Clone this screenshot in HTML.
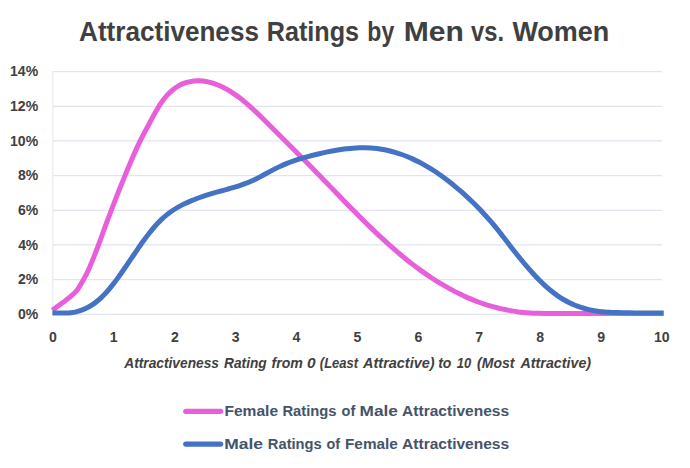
<!DOCTYPE html>
<html><head><meta charset="utf-8"><title>Attractiveness Ratings by Men vs. Women</title>
<style>
html,body{margin:0;padding:0;background:#fff;}
body{width:690px;height:468px;overflow:hidden;font-family:"Liberation Sans",sans-serif;}
svg{display:block;}
text{font-family:"Liberation Sans",sans-serif;font-weight:bold;}
</style></head><body>
<svg width="690" height="468" viewBox="0 0 690 468">
<rect width="690" height="468" fill="#ffffff"/>
<g stroke="#E1E5EE" stroke-width="1.3" fill="none">
<line x1="53" y1="314.30" x2="662" y2="314.30"/>
<line x1="53" y1="279.63" x2="662" y2="279.63"/>
<line x1="53" y1="244.96" x2="662" y2="244.96"/>
<line x1="53" y1="210.29" x2="662" y2="210.29"/>
<line x1="53" y1="175.62" x2="662" y2="175.62"/>
<line x1="53" y1="140.95" x2="662" y2="140.95"/>
<line x1="53" y1="106.28" x2="662" y2="106.28"/>
<line x1="53" y1="71.61" x2="662" y2="71.61"/>
<line x1="52.8" y1="71" x2="52.8" y2="314.9" stroke="#E8EBF1" stroke-width="1.2"/>
</g>
<g font-size="27.5" fill="#404040">
<text transform="translate(79.09,40.90) scale(0.9492,1)">Attractiveness</text>
<text transform="translate(266.78,40.90) scale(0.9155,1)">Ratings</text>
<text transform="translate(367.32,40.90) scale(0.8400,1)">by</text>
<text transform="translate(403.65,40.90) scale(1.0939,1)">Men</text>
<text transform="translate(471.09,40.90) scale(0.8607,1)">vs.</text>
<text transform="translate(512.40,40.90) scale(0.9802,1)">Women</text>
</g>
<g font-size="14.3" fill="#404040" font-style="italic">
<text transform="translate(124.24,368.40) scale(0.9628,1)">Attractiveness</text>
<text transform="translate(224.06,368.40) scale(0.9591,1)">Rating</text>
<text transform="translate(271.51,368.40) scale(0.9894,1)">from</text>
<text transform="translate(307.12,368.40) scale(1.0807,1)">0</text>
<text transform="translate(319.85,368.40) scale(0.9092,1)">(Least</text>
<text transform="translate(363.05,368.40) scale(1.0128,1)">Attractive)</text>
<text transform="translate(438.18,368.40) scale(0.9859,1)">to</text>
<text transform="translate(456.77,368.40) scale(0.9032,1)">10</text>
<text transform="translate(477.11,368.40) scale(0.9810,1)">(Most</text>
<text transform="translate(520.55,368.40) scale(0.9986,1)">Attractive)</text>
</g>
<g font-size="15.3" fill="#44546A">
<text transform="translate(224.38,416.40) scale(1.0185,1)">Female</text>
<text transform="translate(282.43,416.40) scale(0.9651,1)">Ratings</text>
<text transform="translate(341.51,416.40) scale(0.9514,1)">of</text>
<text transform="translate(359.57,416.40) scale(1.1292,1)">Male</text>
<text transform="translate(402.12,416.40) scale(1.0156,1)">Attractiveness</text>
</g>
<g font-size="15.3" fill="#44546A">
<text transform="translate(224.26,449.00) scale(1.1415,1)">Male</text>
<text transform="translate(267.84,449.00) scale(0.9615,1)">Ratings</text>
<text transform="translate(326.61,449.00) scale(0.9369,1)">of</text>
<text transform="translate(345.00,449.00) scale(1.0029,1)">Female</text>
<text transform="translate(402.12,449.00) scale(1.0156,1)">Attractiveness</text>
</g>
<g font-size="14.1" fill="#404040">
<text transform="translate(17.90,319.00) scale(0.9949,1)">0%</text>
<text transform="translate(17.90,284.33) scale(0.9949,1)">2%</text>
<text transform="translate(18.15,249.66) scale(0.9823,1)">4%</text>
<text transform="translate(17.90,214.99) scale(0.9949,1)">6%</text>
<text transform="translate(17.90,180.32) scale(0.9949,1)">8%</text>
<text transform="translate(10.03,145.65) scale(0.9963,1)">10%</text>
<text transform="translate(10.03,110.98) scale(0.9963,1)">12%</text>
<text transform="translate(10.03,76.31) scale(0.9963,1)">14%</text>
</g>
<g font-size="14.1" fill="#404040">
<text transform="translate(49.12,342.20)">0</text>
<text transform="translate(109.71,342.20)">1</text>
<text transform="translate(170.93,342.20)">2</text>
<text transform="translate(231.82,342.20)">3</text>
<text transform="translate(292.60,342.20)">4</text>
<text transform="translate(353.50,342.20)">5</text>
<text transform="translate(414.46,342.20)">6</text>
<text transform="translate(475.36,342.20)">7</text>
<text transform="translate(536.26,342.20)">8</text>
<text transform="translate(597.16,342.20)">9</text>
<text transform="translate(654.00,342.20)">10</text>
</g>
<path d="M52.40,310.30 C53.50,309.47 56.90,306.87 59.00,305.30 C61.10,303.73 63.00,302.42 65.00,300.90 C67.00,299.38 69.00,297.98 71.00,296.20 C73.00,294.42 75.00,292.83 77.00,290.20 C79.00,287.57 81.00,284.03 83.00,280.44 C85.00,276.85 87.00,273.05 89.00,268.67 C91.00,264.30 93.00,259.27 95.00,254.18 C97.00,249.09 99.00,243.53 101.00,238.11 C103.00,232.70 105.00,227.07 107.00,221.68 C109.00,216.29 111.00,210.97 113.00,205.76 C115.00,200.56 117.00,195.46 119.00,190.44 C121.00,185.42 123.00,180.50 125.00,175.64 C127.00,170.79 129.00,165.99 131.00,161.32 C133.00,156.65 135.00,151.96 137.00,147.63 C139.00,143.30 141.00,139.26 143.00,135.35 C145.00,131.43 147.00,127.86 149.00,124.14 C151.00,120.42 153.00,116.52 155.00,113.03 C157.00,109.54 159.00,106.10 161.00,103.17 C163.00,100.25 165.00,97.71 167.00,95.46 C169.00,93.22 171.00,91.35 173.00,89.71 C175.00,88.08 177.00,86.77 179.00,85.64 C181.00,84.52 183.00,83.68 185.00,82.98 C187.00,82.28 189.00,81.79 191.00,81.44 C193.00,81.08 195.00,80.89 197.00,80.84 C199.00,80.78 201.00,80.88 203.00,81.10 C205.00,81.32 207.00,81.68 209.00,82.15 C211.00,82.62 213.00,83.22 215.00,83.92 C217.00,84.61 219.00,85.43 221.00,86.34 C223.00,87.25 225.00,88.27 227.00,89.39 C229.00,90.51 231.00,91.74 233.00,93.06 C235.00,94.38 237.00,95.81 239.00,97.31 C241.00,98.82 243.00,100.44 245.00,102.11 C247.00,103.78 249.00,105.55 251.00,107.35 C253.00,109.15 255.00,111.03 257.00,112.93 C259.00,114.83 261.00,116.79 263.00,118.75 C265.00,120.72 267.00,122.72 269.00,124.71 C271.00,126.70 273.00,128.71 275.00,130.70 C277.00,132.70 279.00,134.69 281.00,136.68 C283.00,138.68 285.00,140.67 287.00,142.66 C289.00,144.66 291.00,146.65 293.00,148.65 C295.00,150.65 297.00,152.65 299.00,154.66 C301.00,156.67 303.00,158.69 305.00,160.71 C307.00,162.74 309.00,164.77 311.00,166.81 C313.00,168.86 315.00,170.91 317.00,172.97 C319.00,175.02 321.00,177.09 323.00,179.15 C325.00,181.22 327.00,183.29 329.00,185.36 C331.00,187.43 333.00,189.50 335.00,191.56 C337.00,193.63 339.00,195.69 341.00,197.75 C343.00,199.81 345.00,201.87 347.00,203.91 C349.00,205.95 351.00,207.99 353.00,210.02 C355.00,212.04 357.00,214.06 359.00,216.06 C361.00,218.05 363.00,220.04 365.00,222.01 C367.00,223.98 369.00,225.93 371.00,227.87 C373.00,229.80 375.00,231.71 377.00,233.60 C379.00,235.49 381.00,237.36 383.00,239.20 C385.00,241.05 387.00,242.87 389.00,244.65 C391.00,246.44 393.00,248.21 395.00,249.93 C397.00,251.66 399.00,253.36 401.00,255.03 C403.00,256.69 405.00,258.33 407.00,259.93 C409.00,261.52 411.00,263.09 413.00,264.62 C415.00,266.15 417.00,267.65 419.00,269.11 C421.00,270.57 423.00,272.00 425.00,273.39 C427.00,274.78 429.00,276.14 431.00,277.47 C433.00,278.79 435.00,280.08 437.00,281.33 C439.00,282.58 441.00,283.79 443.00,284.97 C445.00,286.15 447.00,287.30 449.00,288.40 C451.00,289.51 453.00,290.58 455.00,291.62 C457.00,292.65 459.00,293.65 461.00,294.61 C463.00,295.57 465.00,296.49 467.00,297.37 C469.00,298.26 471.00,299.11 473.00,299.91 C475.00,300.72 477.00,301.49 479.00,302.23 C481.00,302.96 483.00,303.65 485.00,304.31 C487.00,304.96 489.00,305.58 491.00,306.15 C493.00,306.73 495.00,307.27 497.00,307.77 C499.00,308.28 501.00,308.74 503.00,309.18 C505.00,309.61 507.00,310.01 509.00,310.38 C511.00,310.75 513.00,311.07 515.00,311.39 C517.00,311.71 519.00,312.07 521.00,312.30 C523.00,312.53 525.00,312.66 527.00,312.80 C529.00,312.94 531.00,313.06 533.00,313.15 C535.00,313.24 537.00,313.30 539.00,313.35 C541.00,313.40 543.00,313.43 545.00,313.45 C547.00,313.47 549.00,313.49 551.00,313.50 C553.00,313.51 555.00,313.50 557.00,313.50 C559.00,313.50 561.00,313.50 563.00,313.50 C565.00,313.50 567.00,313.50 569.00,313.50 C571.00,313.50 573.00,313.50 575.00,313.50 C577.00,313.50 579.00,313.50 581.00,313.50 C583.00,313.50 585.00,313.50 587.00,313.50 C589.00,313.50 591.00,313.50 593.00,313.50 C595.00,313.50 597.00,313.50 599.00,313.50 C601.00,313.50 603.00,313.50 605.00,313.50 C607.00,313.50 609.00,313.50 611.00,313.50 C613.00,313.50 615.00,313.50 617.00,313.50 C619.00,313.50 621.00,313.50 623.00,313.50 C625.00,313.50 627.00,313.50 629.00,313.50 C631.00,313.50 633.00,313.50 635.00,313.50 C637.00,313.50 639.00,313.50 641.00,313.50 C643.00,313.50 645.00,313.50 647.00,313.50 C649.00,313.50 651.00,313.50 653.00,313.50 C655.00,313.50 657.23,313.50 659.00,313.50 C660.77,313.50 662.83,313.50 663.60,313.50" fill="none" stroke="#E95EDB" stroke-width="5.0" stroke-linejoin="round"/>
<path d="M52.40,313.00 C53.50,313.00 56.90,313.00 59.00,313.00 C61.10,313.00 63.00,313.04 65.00,313.00 C67.00,312.96 69.00,312.99 71.00,312.75 C73.00,312.51 75.00,312.09 77.00,311.56 C79.00,311.04 81.00,310.41 83.00,309.60 C85.00,308.80 87.00,307.86 89.00,306.74 C91.00,305.62 93.00,304.35 95.00,302.87 C97.00,301.39 99.00,299.74 101.00,297.87 C103.00,296.01 105.00,293.91 107.00,291.67 C109.00,289.42 111.00,286.95 113.00,284.40 C115.00,281.85 117.00,279.12 119.00,276.35 C121.00,273.58 123.00,270.68 125.00,267.78 C127.00,264.88 129.00,261.89 131.00,258.95 C133.00,256.01 135.00,253.03 137.00,250.13 C139.00,247.24 141.00,244.35 143.00,241.59 C145.00,238.82 147.00,236.10 149.00,233.54 C151.00,230.98 153.00,228.50 155.00,226.23 C157.00,223.96 159.00,221.83 161.00,219.89 C163.00,217.96 165.00,216.23 167.00,214.62 C169.00,213.01 171.00,211.59 173.00,210.26 C175.00,208.93 177.00,207.75 179.00,206.64 C181.00,205.52 183.00,204.53 185.00,203.58 C187.00,202.62 189.00,201.75 191.00,200.91 C193.00,200.07 195.00,199.28 197.00,198.53 C199.00,197.77 201.00,197.07 203.00,196.39 C205.00,195.71 207.00,195.07 209.00,194.45 C211.00,193.83 213.00,193.25 215.00,192.67 C217.00,192.09 219.00,191.54 221.00,190.98 C223.00,190.43 225.00,189.90 227.00,189.34 C229.00,188.78 231.00,188.23 233.00,187.64 C235.00,187.04 237.00,186.44 239.00,185.79 C241.00,185.13 243.00,184.45 245.00,183.70 C247.00,182.95 249.00,182.16 251.00,181.29 C253.00,180.41 255.00,179.46 257.00,178.46 C259.00,177.47 261.00,176.38 263.00,175.31 C265.00,174.25 267.00,173.12 269.00,172.05 C271.00,170.98 273.00,169.89 275.00,168.88 C277.00,167.86 279.00,166.89 281.00,165.98 C283.00,165.08 285.00,164.23 287.00,163.43 C289.00,162.63 291.00,161.88 293.00,161.17 C295.00,160.46 297.00,159.80 299.00,159.17 C301.00,158.54 303.00,157.95 305.00,157.38 C307.00,156.81 309.00,156.28 311.00,155.76 C313.00,155.25 315.00,154.76 317.00,154.28 C319.00,153.80 321.00,153.34 323.00,152.89 C325.00,152.45 327.00,152.02 329.00,151.62 C331.00,151.22 333.00,150.84 335.00,150.49 C337.00,150.13 339.00,149.81 341.00,149.51 C343.00,149.22 345.00,148.96 347.00,148.73 C349.00,148.51 351.00,148.31 353.00,148.17 C355.00,148.02 357.00,147.90 359.00,147.84 C361.00,147.78 363.00,147.75 365.00,147.78 C367.00,147.81 369.00,147.89 371.00,148.02 C373.00,148.15 375.00,148.33 377.00,148.58 C379.00,148.82 381.00,149.12 383.00,149.48 C385.00,149.83 387.00,150.25 389.00,150.72 C391.00,151.20 393.00,151.73 395.00,152.31 C397.00,152.90 399.00,153.55 401.00,154.25 C403.00,154.95 405.00,155.70 407.00,156.52 C409.00,157.33 411.00,158.20 413.00,159.12 C415.00,160.04 417.00,161.02 419.00,162.05 C421.00,163.08 423.00,164.16 425.00,165.30 C427.00,166.44 429.00,167.63 431.00,168.88 C433.00,170.12 435.00,171.42 437.00,172.77 C439.00,174.12 441.00,175.52 443.00,176.98 C445.00,178.43 447.00,179.94 449.00,181.49 C451.00,183.05 453.00,184.65 455.00,186.31 C457.00,187.97 459.00,189.68 461.00,191.43 C463.00,193.19 465.00,195.00 467.00,196.85 C469.00,198.71 471.00,200.61 473.00,202.56 C475.00,204.52 477.00,206.52 479.00,208.59 C481.00,210.66 483.00,212.78 485.00,214.97 C487.00,217.16 489.00,219.41 491.00,221.74 C493.00,224.07 495.00,226.48 497.00,228.94 C499.00,231.41 501.00,233.98 503.00,236.54 C505.00,239.10 507.00,241.74 509.00,244.32 C511.00,246.90 513.00,249.51 515.00,252.04 C517.00,254.58 519.00,257.08 521.00,259.52 C523.00,261.96 525.00,264.36 527.00,266.68 C529.00,269.01 531.00,271.27 533.00,273.46 C535.00,275.64 537.00,277.76 539.00,279.78 C541.00,281.80 543.00,283.74 545.00,285.58 C547.00,287.42 549.00,289.17 551.00,290.80 C553.00,292.43 555.00,293.95 557.00,295.37 C559.00,296.78 561.00,298.07 563.00,299.26 C565.00,300.46 567.00,301.54 569.00,302.54 C571.00,303.54 573.00,304.43 575.00,305.25 C577.00,306.06 579.00,306.78 581.00,307.43 C583.00,308.09 585.00,308.65 587.00,309.16 C589.00,309.67 591.00,310.10 593.00,310.47 C595.00,310.85 597.00,311.16 599.00,311.43 C601.00,311.70 603.00,311.92 605.00,312.08 C607.00,312.24 609.00,312.31 611.00,312.40 C613.00,312.49 615.00,312.55 617.00,312.61 C619.00,312.67 621.00,312.71 623.00,312.75 C625.00,312.78 627.00,312.81 629.00,312.83 C631.00,312.86 633.00,312.88 635.00,312.89 C637.00,312.91 639.00,312.92 641.00,312.93 C643.00,312.94 645.00,312.95 647.00,312.95 C649.00,312.96 651.00,312.97 653.00,312.97 C655.00,312.97 657.23,312.98 659.00,312.98 C660.77,312.98 662.83,312.98 663.60,312.99" fill="none" stroke="#4472C4" stroke-width="5.0" stroke-linejoin="round"/>
<line x1="185.8" y1="411.3" x2="220.6" y2="411.3" stroke="#E95EDB" stroke-width="5.3" stroke-linecap="round"/>
<line x1="185.8" y1="444.1" x2="220.6" y2="444.1" stroke="#4472C4" stroke-width="5.3" stroke-linecap="round"/>
</svg>
</body></html>
